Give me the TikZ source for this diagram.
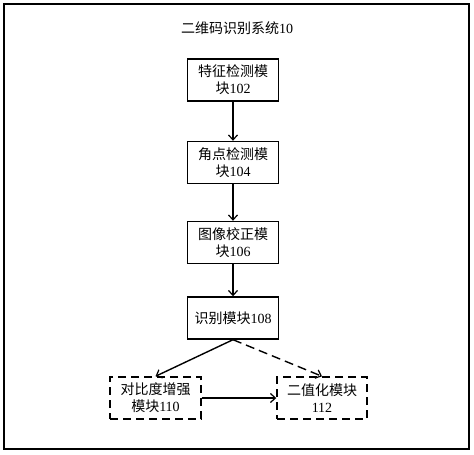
\documentclass[tikz,border=0pt]{standalone}
\usepackage{fontspec}
\setmainfont{Liberation Serif}
\newfontfamily\cjk{Noto Sans CJK SC}
\usetikzlibrary{arrows.meta}
\newcommand{\zh}[1]{{\cjk #1}}
\tikzset{
  modbox/.style={draw, line width=1.4pt, minimum width=91pt, minimum height=42pt, inner sep=1pt, align=center, font=\fontsize{14pt}{17pt}\selectfont},
  optbox/.style={modbox, dash pattern=on 8pt off 5pt},
  conn/.style={line width=1.4pt, -{Straight Barb[length=5pt,width=9pt,line width=1.2pt]}},
}
\begin{document}
\begin{tikzpicture}[x=1pt,y=-1pt]
\useasboundingbox (0,0) rectangle (474,455);
\draw[line width=1.6pt] (4,4) rectangle (469,449);
\node[font=\fontsize{14pt}{17pt}\selectfont] (title) at (237,28) {\zh{二维码识别系统}10};
\node[modbox] (b102) at (233,80) {\zh{特征检测模}\\\zh{块}102};
\node[modbox] (b104) at (233,162.5) {\zh{角点检测模}\\\zh{块}104};
\node[modbox] (b106) at (233,242.5) {\zh{图像校正模}\\\zh{块}106};
\node[modbox] (b108) at (233,318) {\zh{识别模块}108};
\node[optbox] (b110) at (155.5,398) {\zh{对比度增强}\\\zh{模块}110};
\node[optbox, minimum width=90pt] (b112) at (322,398) {\zh{二值化模块}\\112};
\draw[conn] (b102) -- (b104);
\draw[conn] (b104) -- (b106);
\draw[conn] (b106) -- (b108);
\draw[conn] (b108.south) -- (b110.north);
\draw[conn, dash pattern=on 9pt off 5pt] (b108.south) -- (b112.north);
\draw[conn] (b110) -- (b112);
\end{tikzpicture}
\end{document}
